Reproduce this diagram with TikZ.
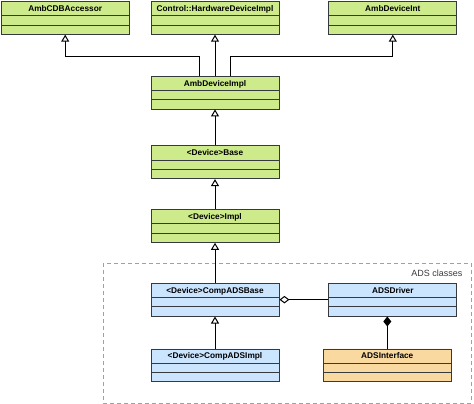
\documentclass[tikz,border=0pt]{standalone}
\usepackage{fontspec}
\setmainfont{Liberation Sans}
\usetikzlibrary{positioning, shapes.multipart, arrows.meta, calc}

\definecolor{umlgreen}{HTML}{CDEB8B}
\definecolor{umlblue}{HTML}{CCE5FF}
\definecolor{umlorange}{HTML}{FAD9A1}
\definecolor{umlstroke}{HTML}{36393D}
\definecolor{framegray}{HTML}{A0A0A0}

\tikzset{
  umlclass/.style={draw=umlstroke, line width=0.8pt, rectangle split, rectangle split parts=3,
    minimum width=128pt, inner xsep=2pt, inner ysep=0pt,
    rectangle split empty part height=8.5pt, rectangle split empty part depth=0pt,
    font=\bfseries\fontsize{8.3}{9}\selectfont, execute at begin node={\rule[-4pt]{0pt}{13.5pt}}},
  inherit/.style={line width=1pt, -{Triangle[open, length=7pt, width=8pt]}},
  aggreg/.style={line width=1pt, -{Diamond[open, length=10pt, width=7.5pt]}},
  compos/.style={line width=1pt, -{Diamond[length=10pt, width=8pt]}},
  adsframe/.style={draw=framegray, line width=0.8pt, dash pattern=on 4pt off 3pt},
}

\begin{document}
\begin{tikzpicture}[x=1pt, y=1pt]
            \useasboundingbox (0,0) rectangle (474,-404);

            \node [umlclass, fill=umlgreen, anchor=north] (hwimpl) at (215,-1) {Control::HardwareDeviceImpl};
            \node [umlclass, fill=umlgreen, left=21pt of hwimpl] (cdb) {AmbCDBAccessor};
            \node [umlclass, fill=umlgreen, right=49pt of hwimpl] (devint) {AmbDeviceInt};
            \node [umlclass, fill=umlgreen, below=41pt of hwimpl] (ambimpl) {AmbDeviceImpl};
            \node [umlclass, fill=umlgreen, below=36pt of ambimpl] (base) {<Device>Base};
            \node [umlclass, fill=umlgreen, below=30pt of base] (impl) {<Device>Impl};

            % ADS classes
            \draw [adsframe] (103,-263) rectangle (471,-403);
            \node [anchor=base east, font=\fontsize{9}{10}\selectfont, text=umlstroke] (adslabel) at (466,-276.5) {ADS classes};
            \node [umlclass, fill=umlblue, below=40pt of impl] (compbase) {<Device>CompADSBase};
            \node [umlclass, fill=umlblue, below=32pt of compbase] (compimpl) {<Device>CompADSImpl};
            \node [umlclass, fill=umlblue, right=49pt of compbase] (driver) {ADSDriver};
            \node [umlclass, fill=umlorange, below=32pt of driver, xshift=-5.5pt] (adsif) {ADSInterface};

            \draw [inherit] ([xshift=-16pt]ambimpl.north) -- ++(0,19) -| (cdb.south);
            \draw [inherit] (ambimpl.north) -- (hwimpl.south);
            \draw [inherit] ([xshift=15pt]ambimpl.north) -- ++(0,19) -| (devint.south);
            \draw [inherit] (base) -- (ambimpl);
            \draw [inherit] (impl) -- (base);
            \draw [inherit] (compbase) -- (impl);
            \draw [inherit] (compimpl) -- (compbase);

            \draw [aggreg] (driver.west) -- (compbase.east);
            \draw [compos] (adsif.north) -- (adsif.north |- driver.south);
          \end{tikzpicture}
\end{document}
